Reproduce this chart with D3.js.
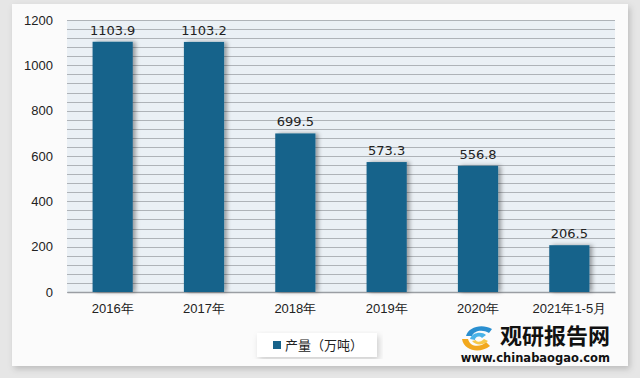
<!DOCTYPE html>
<html>
<head>
<meta charset="utf-8">
<script src="https://cdn.jsdelivr.net/npm/d3@7"></script>
<style>
  body { margin: 0; background: #e6e6e6; }
  svg { display: block; font-family: Verdana, "DejaVu Sans", sans-serif; }
</style>
</head>
<body>
<div id="vis"></div>
<script>
const categories = ["2016年", "2017年", "2018年", "2019年", "2020年", "2021年1-5月"];
const output = [1103.9, 1103.2, 699.5, 573.3, 556.8, 206.5];
const yTicks = [0, 200, 400, 600, 800, 1000, 1200];
const seriesName = "产量（万吨）";

const W = 640, H = 378;
const margin = { top: 20, right: 25, bottom: 86, left: 67 };
const width = W - margin.left - margin.right;
const height = H - margin.top - margin.bottom;

const svg = d3.select("#vis").append("svg")
  .attr("width", W)
  .attr("height", H);

const defs = svg.append("defs");
const sh = defs.append("filter").attr("id", "panelShadow")
  .attr("x", "-5%").attr("y", "-5%").attr("width", "110%").attr("height", "110%");
sh.append("feDropShadow").attr("dx", 2).attr("dy", 3).attr("stdDeviation", 3)
  .attr("flood-color", "#000").attr("flood-opacity", 0.18);
const bs = defs.append("filter").attr("id", "barShadow")
  .attr("x", "-20%").attr("y", "-10%").attr("width", "150%").attr("height", "120%");
bs.append("feDropShadow").attr("dx", 3).attr("dy", 0).attr("stdDeviation", 2)
  .attr("flood-color", "#000").attr("flood-opacity", 0.35);

// panel
svg.append("rect")
  .attr("x", 12).attr("y", 4).attr("width", 616).attr("height", 362)
  .attr("fill", "#fbfbfb")
  .attr("filter", "url(#panelShadow)");

const g = svg.append("g").attr("transform", `translate(${margin.left},${margin.top})`);

const x = d3.scaleBand().domain(categories).range([0, width]).paddingInner(0.56).paddingOuter(0.28);
const y = d3.scaleLinear().domain([0, 1200]).range([height, 0]);

// plot background and banded gridlines
g.append("rect").attr("width", width).attr("height", height).attr("fill", "#eaf0f5");
g.selectAll("line.grid")
  .data(d3.range(0, 1201, 40))
  .enter().append("line")
  .attr("class", "grid")
  .attr("x1", 0).attr("x2", width)
  .attr("y1", d => Math.round(y(d)) + 0.5)
  .attr("y2", d => Math.round(y(d)) + 0.5)
  .attr("stroke", "#aeb3b8")
  .attr("stroke-width", 1.2);

// y axis
const yAxis = g.append("g")
  .call(d3.axisLeft(y).tickValues(yTicks).tickFormat(d3.format("d")).tickSize(0).tickPadding(14));
yAxis.select(".domain").remove();
yAxis.selectAll("text").attr("font-size", 13).attr("fill", "#222");

// x axis
const xAxis = g.append("g").attr("transform", `translate(0,${height})`)
  .call(d3.axisBottom(x).tickSize(0).tickPadding(12));
xAxis.select(".domain").attr("stroke", "#9a9ea3").attr("stroke-width", 1.5);
xAxis.selectAll("text").attr("font-size", 13).attr("fill", "#222");

// bars
g.selectAll("rect.bar")
  .data(output)
  .enter().append("rect")
  .attr("class", "bar")
  .attr("x", (d, i) => x(categories[i]))
  .attr("y", d => y(d))
  .attr("width", x.bandwidth())
  .attr("height", d => height - y(d))
  .attr("fill", "#17638b")
  .attr("filter", "url(#barShadow)");

g.selectAll("text.val")
  .data(output)
  .enter().append("text")
  .attr("class", "val")
  .attr("x", (d, i) => x(categories[i]) + x.bandwidth() / 2)
  .attr("y", d => y(d) - 7)
  .attr("text-anchor", "middle")
  .attr("font-size", 13)
  .attr("fill", "#222")
  .text(d => d.toFixed(1));

// legend
const leg = svg.append("g").attr("transform", "translate(257,333)");
leg.append("rect").attr("width", 120).attr("height", 24).attr("fill", "#fff")
  .attr("filter", "url(#panelShadow)");
leg.append("rect").attr("x", 16).attr("y", 8).attr("width", 8).attr("height", 8).attr("fill", "#17638b");
leg.append("text").attr("x", 28).attr("y", 17)
  .attr("font-size", 13).attr("fill", "#222")
  .attr("font-family", "'Noto Sans CJK SC', sans-serif")
  .text(seriesName);

// watermark logo
const logo = svg.append("g").attr("transform", "translate(462,324)");
logo.append("path")
  .attr("d", "M4,12 C6,3 20,-1 30,5 L27,9 C20,5 12,7 10,12 Z")
  .attr("fill", "#2a8fd0");
logo.append("path")
  .attr("d", "M8,15 C10,8 20,7 24,11 L20,14 C17,11 13,13 13,16 Z")
  .attr("fill", "#4ab3e8");
logo.append("path")
  .attr("d", "M0,15 C2,27 18,30 28,22 L24,18 C18,24 8,23 6,15 Z")
  .attr("fill", "#f2a81d");
logo.append("path")
  .attr("d", "M10,17 C14,22 22,21 26,17 L22,15 C18,19 14,18 14,16 Z")
  .attr("fill", "#f7c948");
logo.append("text").attr("x", 38).attr("y", 20)
  .attr("font-size", 22).attr("font-weight", "bold").attr("fill", "#111")
  .attr("font-family", "'Noto Sans CJK SC', sans-serif")
  .text("观研报告网");
svg.append("text").attr("x", 610).attr("y", 362)
  .attr("text-anchor", "end")
  .attr("font-size", 11.5).attr("font-weight", "bold").attr("fill", "#111")
  .attr("font-family", "Verdana, 'DejaVu Sans', sans-serif")
  .text("www.chinabaogao.com");
</script>
</body>
</html>
